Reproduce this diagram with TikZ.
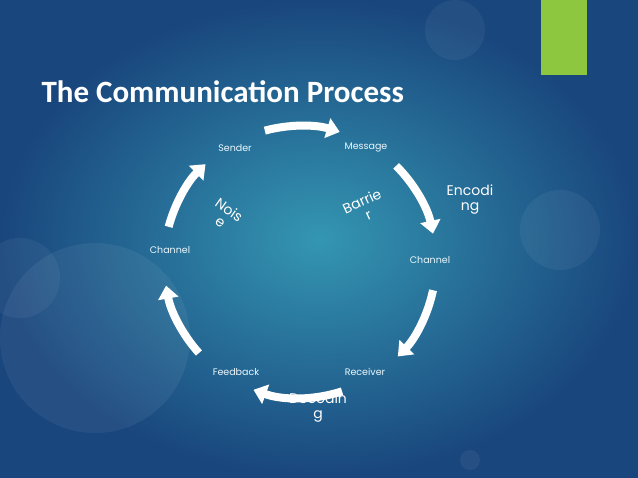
\documentclass[tikz,border=0pt]{standalone}
\usepackage{fontspec}
\setmainfont{Carlito}
\newfontfamily\gothic{Poppins}
\usetikzlibrary{arrows.meta}
\definecolor{bgin}{RGB}{52,150,178}
\definecolor{bgout}{RGB}{25,70,125}
\definecolor{tabgreen}{RGB}{141,198,63}
\begin{document}
\begin{tikzpicture}[x=1pt,y=1pt,
  lbl/.style={text=white!92!cyan,font=\gothic\fontsize{9.5}{11}\selectfont},
  big/.style={text=white,align=center,font=\gothic\fontsize{14}{15}\selectfont},
  flow/.style={white,line width=8pt,-{Triangle[width=20pt,length=13pt]}}]
\useasboundingbox (0,0) rectangle (638,478);
\shade[inner color=bgin,outer color=bgout] (0,0) rectangle (638,478);
\fill[white,opacity=0.06] (95,140) circle (95);
\fill[white,opacity=0.05] (455,448) circle (30);
\fill[white,opacity=0.05] (560,248) circle (40);
\fill[white,opacity=0.05] (20,200) circle (40);
\fill[white,opacity=0.06] (470,18) circle (10);
\fill[tabgreen] (541,403) rectangle (587,478);
\node[anchor=base west,text=white,font=\bfseries\fontsize{31}{32}\selectfont] (title) at (38,375) {The Communication Process};
\coordinate (c) at (300,216);
\node[lbl] (sender) at (235,330) {Sender};
\node[lbl] (message) at (366,330) {Message};
\node[lbl] (chr) at (430,218) {Channel};
\node[lbl] (receiver) at (365,106) {Receiver};
\node[lbl] (feedback) at (236,106) {Feedback};
\node[lbl] (chl) at (170,228) {Channel};
\node[big] (enc) at (470,278) {Encodi\\ng};
\node[big] (dec) at (318,70) {Decodin\\g};
\node[big,rotate=-35] (noise) at (225,262) {Nois\\e};
\node[big,rotate=25] (barrier) at (365,270) {Barrie\\r};
\draw[flow] ([shift={(105:136)}]c) arc (105:73:136);
\draw[flow] ([shift={(45:136)}]c) arc (45:12:136);
\draw[flow] ([shift={(-12:136)}]c) arc (-12:-44:136);
\draw[flow] ([shift={(-72:136)}]c) arc (-72:-110:136);
\draw[flow] ([shift={(-138:136)}]c) arc (-138:-170:136);
\draw[flow] ([shift={(165:136)}]c) arc (165:134:136);
\end{tikzpicture}
\end{document}
